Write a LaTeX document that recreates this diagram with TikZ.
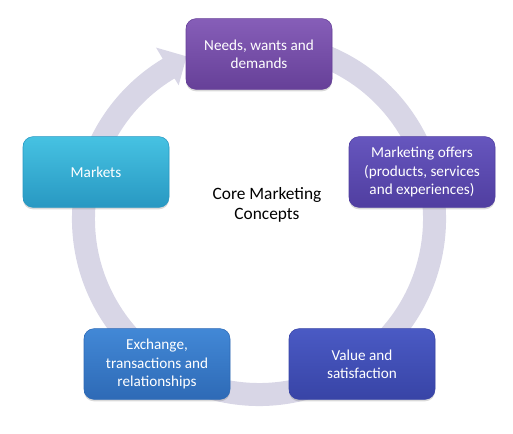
\documentclass[tikz,border=0pt]{standalone}
\usepackage{fontspec}
\setmainfont{Carlito}
\usetikzlibrary{calc,shadows}

\definecolor{ringgray}{RGB}{216,214,230}
\definecolor{needsA}{RGB}{134,94,184}
\definecolor{needsB}{RGB}{102,64,152}
\definecolor{offersA}{RGB}{102,86,190}
\definecolor{offersB}{RGB}{80,62,160}
\definecolor{valueA}{RGB}{74,90,196}
\definecolor{valueB}{RGB}{56,68,166}
\definecolor{exchA}{RGB}{66,136,214}
\definecolor{exchB}{RGB}{46,106,182}
\definecolor{marketA}{RGB}{70,194,226}
\definecolor{marketB}{RGB}{40,152,194}

\tikzset{
	concept/.style={rounded corners=7.5pt, minimum width=109.5pt, minimum height=53pt,
		align=center, text=white, font=\fontsize{11.4}{13.6}\selectfont,
		drop shadow={shadow xshift=0pt, shadow yshift=-1.5pt, opacity=.3}},
	ringband/.style={fill=ringgray}
}

\begin{document}
\begin{tikzpicture}[x=0.75pt, y=0.75pt]
			%%%%% START %%%%%
			
			\useasboundingbox (0, 0) rectangle (513, 433);
			
			\coordinate (c) at (259, 214);
			
			% ring with its head
			\fill[ringband] ($(c)+(75:187)$) arc[start angle=75, end angle=-239, radius=187]
				-- ($(c)+(121:200)$) -- ($(c)+(114:178)$) -- ($(c)+(121:156)$)
				-- ($(c)+(121:164)$) arc[start angle=-239, end angle=75, radius=164] -- cycle;
			
			\node[concept, top color=needsA, bottom color=needsB, draw=needsB] (needs) at (259, 379) {Needs, wants and\\demands};
			\node[concept, top color=offersA, bottom color=offersB, draw=offersB] (offers) at (422, 261) {Marketing offers\\(products, services\\and experiences)};
			\node[concept, top color=valueA, bottom color=valueB, draw=valueB] (value) at (362, 69) {Value and\\satisfaction};
			\node[concept, top color=exchA, bottom color=exchB, draw=exchB] (exchange) at (157, 69) {Exchange,\\transactions and\\relationships};
			\node[concept, top color=marketA, bottom color=marketB, draw=marketB] (markets) at (96, 261) {Markets};
			
			\node[align=center, font=\fontsize{13}{15.5}\selectfont] (core) at (267, 228) {Core Marketing\\Concepts};
			
			%%%%% END %%%%%
\end{tikzpicture}
\end{document}
